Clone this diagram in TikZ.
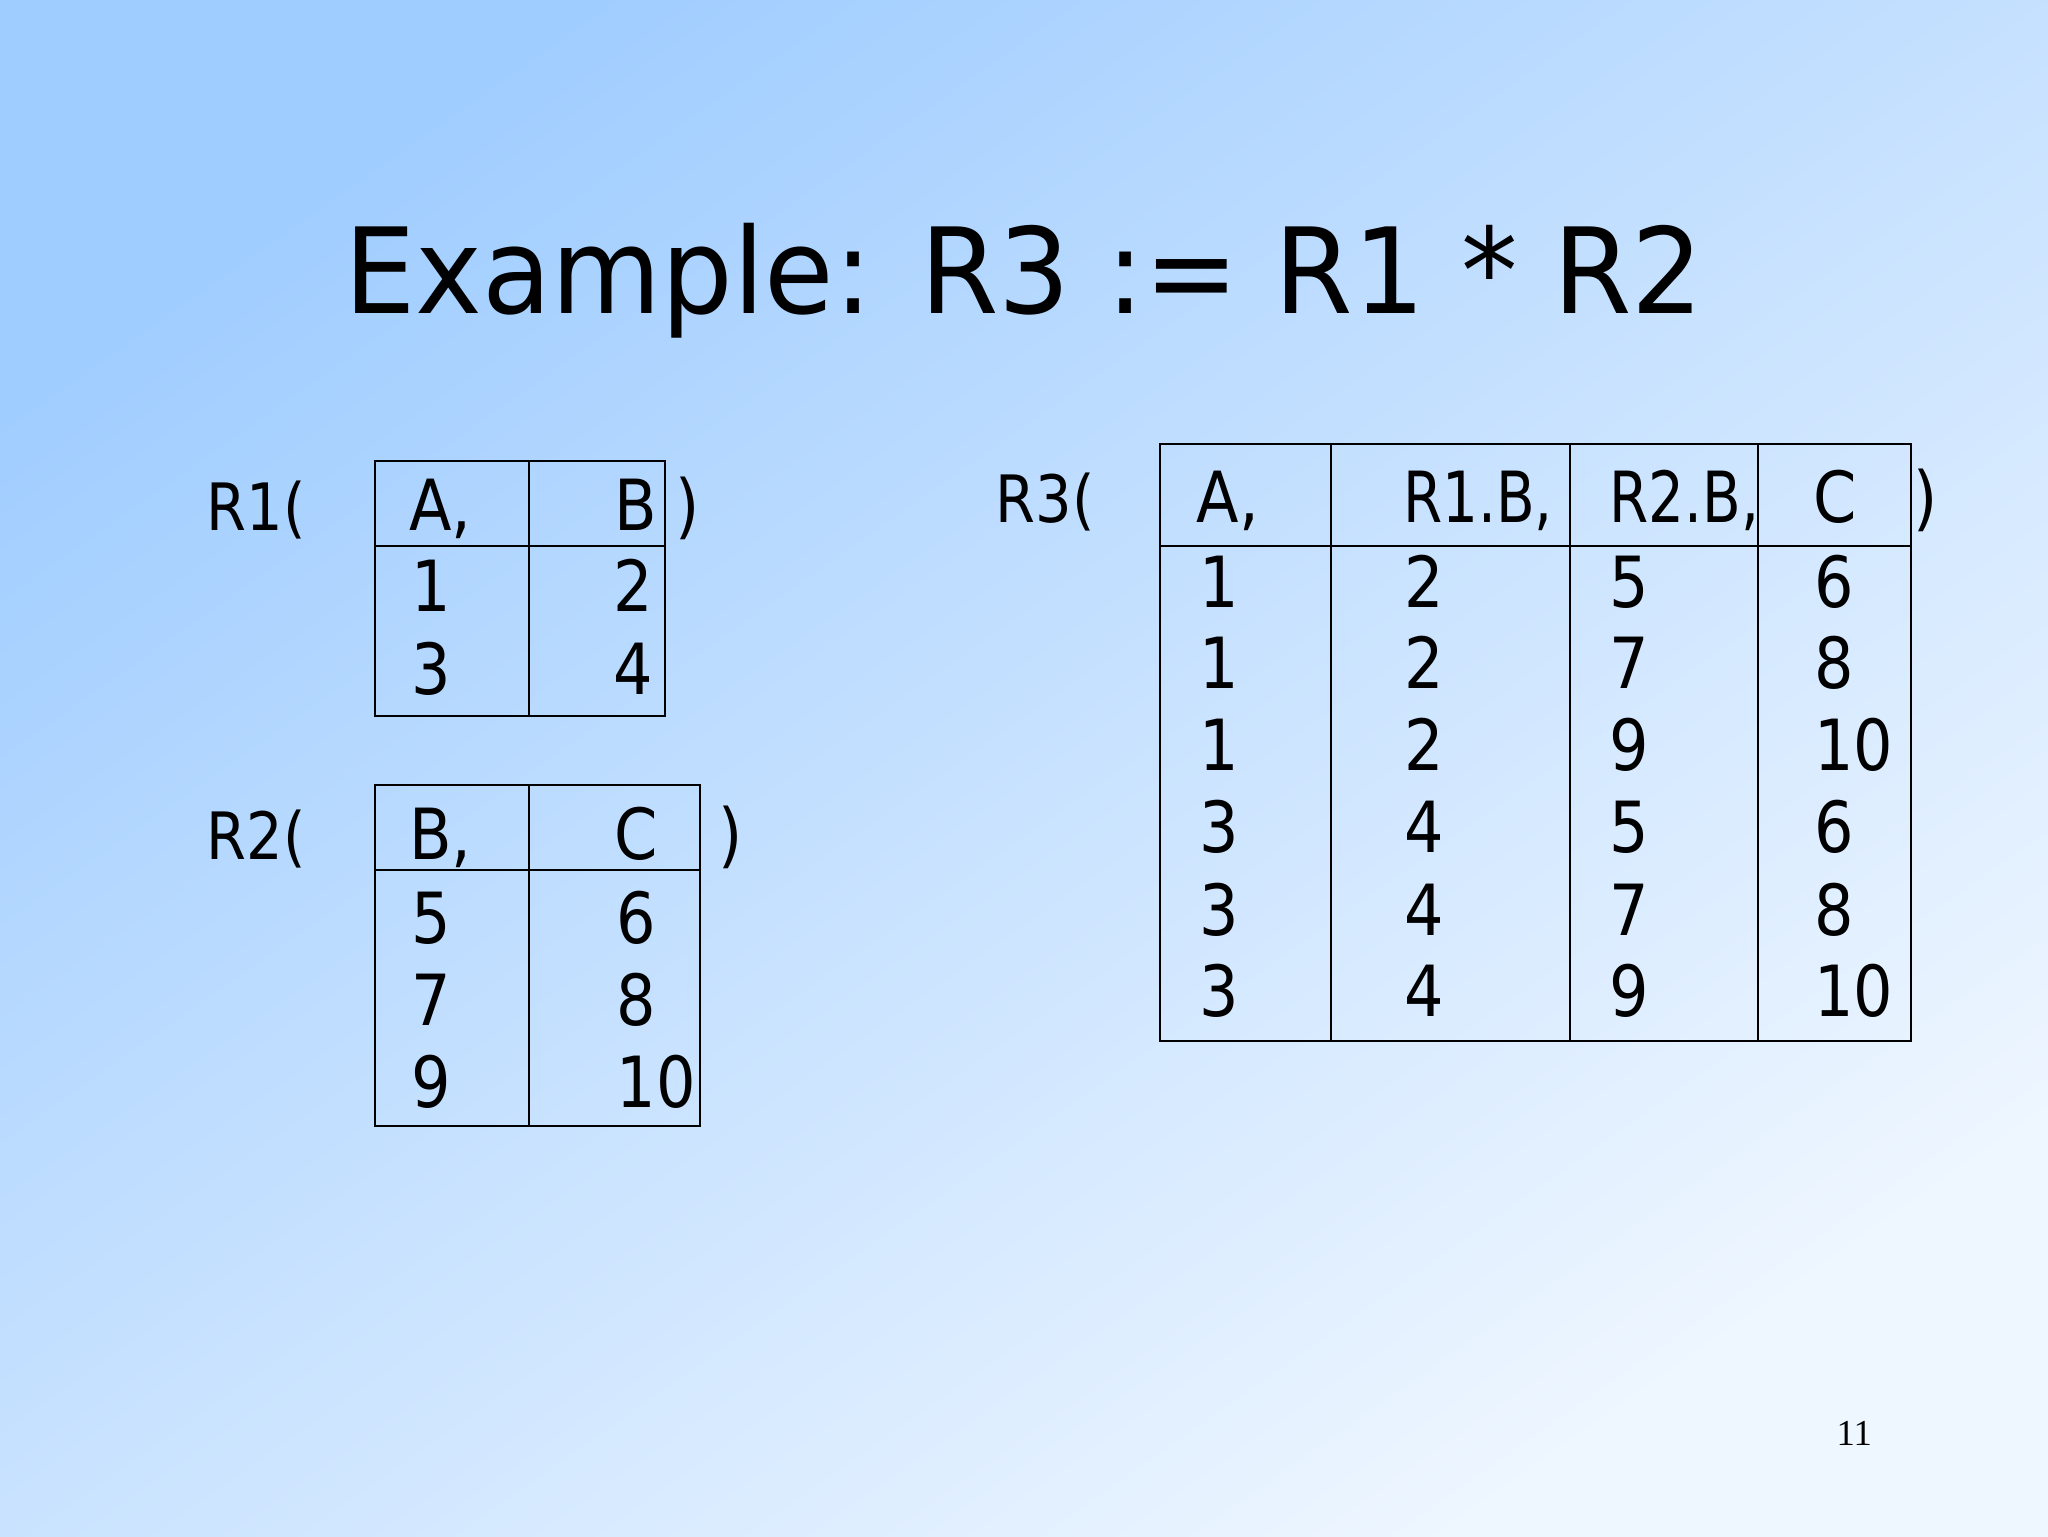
\documentclass[tikz,border=0pt]{standalone}
\usepackage{fontspec}
\setmainfont{DejaVu Sans}[FakeStretch=0.88]
\newfontfamily\titlefont{DejaVu Sans}[FakeStretch=0.95]
\newfontfamily\serifnum{Liberation Serif}
\begin{document}
\begin{tikzpicture}[x=1pt,y=-1pt,
  cell/.style={anchor=base west,inner sep=0pt,font=\fontsize{54}{54}\selectfont},
  lab/.style={anchor=base west,inner sep=0pt,font=\fontsize{50}{50}\selectfont},
  tab/.style={draw=black,line width=1.3pt}]
\useasboundingbox (0,0) rectangle (1568,1176);
\shade[shading=axis,top color={rgb,255:red,160;green,205;blue,255},bottom color={rgb,255:red,238;green,246;blue,255},shading angle=35] (0,0) rectangle (1568,1176);
\node[anchor=base,inner sep=0pt,font=\titlefont\fontsize{91}{91}\selectfont] (title) at (784,240) {Example: R3 := R1 * R2};
% R1
\node[lab] (r1l) at (158,406) {R1(};
\draw[tab] (287,353) rectangle (509,548);
\draw[tab] (405,353) -- (405,548) (287,418) -- (509,418);
\node[cell] (r1a) at (313,406) {A,};
\node[cell,anchor=base east] (r1b) at (503,406) {B};
\node[cell] (r1p) at (517,406) {)};
\node[cell] at (315,468) {1};\node[cell] at (315,532) {3};
\node[cell,anchor=base east] at (500,468) {2};\node[cell,anchor=base east] at (500,532) {4};
% R2
\node[lab] (r2l) at (158,658) {R2(};
\draw[tab] (287,601) rectangle (536,862);
\draw[tab] (405,601) -- (405,862) (287,666) -- (536,666);
\node[cell] (r2b) at (313,658) {B,};
\node[cell] (r2c) at (470,658) {C};
\node[cell] (r2p) at (550,658) {)};
\node[cell] at (315,722) {5};\node[cell] at (315,785) {7};\node[cell] at (315,848) {9};
\node[cell] at (472,722) {6};\node[cell] at (472,785) {8};\node[cell] at (472,848) {10};
% R3
\node[lab] (r3l) at (762,400) {R3(};
\draw[tab] (888,340) rectangle (1463,797);
\draw[tab] (1019,340) -- (1019,797) (1202,340) -- (1202,797) (1346,340) -- (1346,797) (888,418) -- (1463,418);
\node[cell] at (916,400) {A,};
\node[cell,font=\fontsize{54}{54}\addfontfeature{FakeStretch=0.8}] at (1074,400) {R1.B,};
\node[cell,font=\fontsize{54}{54}\addfontfeature{FakeStretch=0.8}] at (1232,400) {R2.B,};
\node[cell] at (1388,400) {C};
\node[cell] at (1465,400) {)};
\foreach \y/\a/\b/\c/\d in {465/1/2/5/6,527/1/2/7/8,590/1/2/9/10,653/3/4/5/6,716/3/4/7/8,778/3/4/9/10}{
  \node[cell] at (918,\y) {\a};
  \node[cell] at (1075,\y) {\b};
  \node[cell] at (1232,\y) {\c};
  \node[cell] at (1389,\y) {\d};
}
\node[anchor=base west,inner sep=0pt,font=\serifnum\fontsize{28}{28}\selectfont] (pg) at (1406,1107) {11};
\end{tikzpicture}
\end{document}
